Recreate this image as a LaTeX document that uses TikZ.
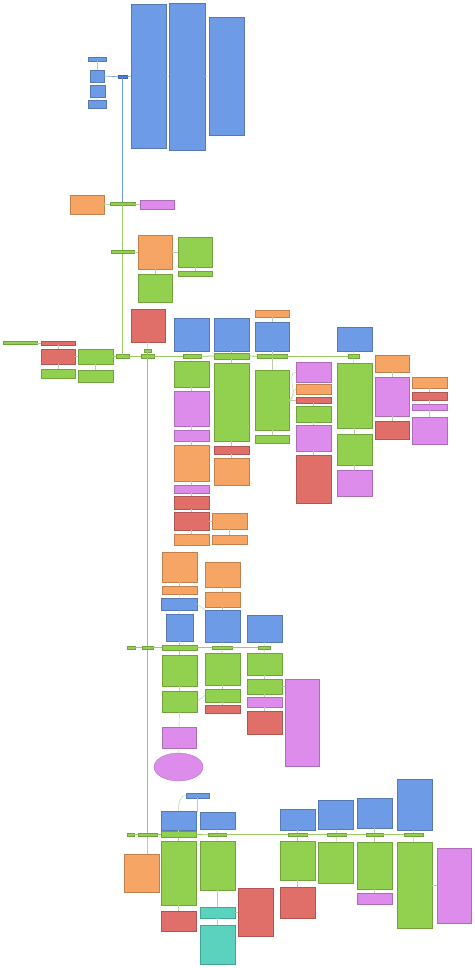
\documentclass[tikz,border=0pt]{standalone}
\usetikzlibrary{shapes.geometric}
\definecolor{cBlue}{HTML}{6E9BE6}
\definecolor{cBlueD}{HTML}{4F7FD4}
\definecolor{cGreen}{HTML}{92D050}
\definecolor{cOrange}{HTML}{F6A564}
\definecolor{cRed}{HTML}{E06E69}
\definecolor{cPurple}{HTML}{DE8CEB}
\definecolor{cTeal}{HTML}{5AD2BE}
\definecolor{cLine}{HTML}{B9CFA6}
\definecolor{cTrunk}{HTML}{9CCC65}
\definecolor{cTrunkB}{HTML}{6E9BE6}
\tikzset{
  box/.style={rectangle, draw=#1!78!black, fill=#1, line width=0.3pt, inner sep=0pt, outer sep=0pt},
  conn/.style={draw=cLine, line width=0.45pt},
  trunk/.style={draw=cTrunk, line width=0.8pt},
  trunkb/.style={draw=cTrunkB, line width=0.8pt},
}
\newcommand{\bx}[6]{\node[box=#6, minimum width={(#4-#2)*1pt}, minimum height={(#5-#3)*1pt}] (#1) at ({(#2+#4)/2},{(#3+#5)/2}) {};}
\begin{document}
\begin{tikzpicture}[x=1pt,y=-1pt]
\fill[white] (0,0) rectangle (474,968);
\useasboundingbox (0,0) rectangle (474,968);

% ---------- top ----------
\bx{T0}{88}{57}{106}{61}{cBlue}
\bx{T1}{90}{70}{104}{82}{cBlue}
\bx{T2}{90}{85}{105}{97}{cBlue}
\bx{T3}{88}{100}{106}{108}{cBlue}
\bx{C}{118}{75}{127}{78.5}{cBlueD}
\bx{B1}{131}{4}{166}{148}{cBlue}
\bx{B2}{169}{3}{205}{150}{cBlue}
\bx{B3}{209}{17}{244}{135}{cBlue}

% ---------- rows on first trunk ----------
\bx{L1}{110}{202}{135}{205.5}{cGreen}
\bx{O1}{70}{195}{104}{214}{cOrange}
\bx{P1}{140}{200}{174}{209}{cPurple}

\bx{L2}{111}{250}{134}{253.5}{cGreen}
\bx{O2}{138}{235}{172}{269}{cOrange}
\bx{G2}{178}{237}{212}{267}{cGreen}
\bx{G2b}{178}{271}{212}{276}{cGreen}
\bx{G2c}{138}{274}{172}{302}{cGreen}

% ---------- row 356 ----------
\bx{R0}{131}{309}{165}{342}{cRed}
\bx{S0}{144}{349}{151}{352}{cGreen}
\bx{L3}{116}{354.5}{129}{358}{cGreen}
\bx{L4}{141}{354.5}{154}{358}{cGreen}
\bx{GL}{78}{349}{113}{364}{cGreen}
\bx{GLb}{78}{370}{113}{382}{cGreen}
\bx{RL}{41}{349}{75}{364}{cRed}
\bx{RLs}{41}{341}{75}{345}{cRed}
\bx{GLc}{41}{369}{75}{378}{cGreen}
\bx{LL}{3}{341.5}{37}{344.5}{cGreen}

\bx{La}{183}{354.5}{201}{358}{cGreen}
\bx{Lb}{214}{353}{249}{359}{cGreen}
\bx{Lc}{257}{354.5}{287}{358}{cGreen}
\bx{Ld}{348}{354.5}{359}{358}{cGreen}

\bx{Ba}{174}{318}{209}{351}{cBlue}
\bx{Bb}{214}{318}{249}{351}{cBlue}
\bx{Oc}{255}{310}{289}{317}{cOrange}
\bx{Bc}{255}{322}{289}{351}{cBlue}
\bx{Bd}{337}{327}{372}{351}{cBlue}

\bx{a1}{174}{361}{209}{387}{cGreen}
\bx{a2}{174}{391}{209}{426}{cPurple}
\bx{a3}{174}{430}{209}{441}{cPurple}
\bx{a4}{174}{445}{209}{481}{cOrange}
\bx{a5}{174}{485}{209}{493}{cPurple}
\bx{a6}{174}{496}{209}{509}{cRed}
\bx{a7}{174}{512}{209}{530}{cRed}
\bx{a8}{174}{534}{209}{545}{cOrange}
\bx{a7r}{212}{513}{247}{529}{cOrange}
\bx{a8r}{212}{535}{247}{544}{cOrange}

\bx{b1}{214}{363}{249}{441}{cGreen}
\bx{b2}{214}{446}{249}{454}{cRed}
\bx{b3}{214}{458}{249}{485}{cOrange}

\bx{c1}{255}{370}{289}{430}{cGreen}
\bx{c2}{255}{435}{289}{443}{cGreen}

\bx{d1}{296}{362}{331}{382}{cPurple}
\bx{d2}{296}{384}{331}{394}{cOrange}
\bx{d3}{296}{397}{331}{403}{cRed}
\bx{d4}{296}{406}{331}{422}{cGreen}
\bx{d5}{296}{425}{331}{451}{cPurple}
\bx{d6}{296}{455}{331}{503}{cRed}

\bx{e1}{337}{363}{372}{428}{cGreen}
\bx{e2}{337}{434}{372}{465}{cGreen}
\bx{e3}{337}{470}{372}{496}{cPurple}

\bx{f1}{375}{355}{409}{372}{cOrange}
\bx{f2}{375}{377}{409}{416}{cPurple}
\bx{f3}{375}{421}{409}{439}{cRed}

\bx{g1}{412}{377}{447}{388}{cOrange}
\bx{g2}{412}{392}{447}{400}{cRed}
\bx{g3}{412}{404}{447}{410}{cPurple}
\bx{g4}{412}{417}{447}{444}{cPurple}

% ---------- row 648 ----------
\bx{h1}{162}{552}{197}{582}{cOrange}
\bx{h2}{162}{586}{197}{594}{cOrange}
\bx{h3}{161}{598}{197}{610}{cBlue}
\bx{h4}{166}{614}{193}{641}{cBlue}
\bx{i1}{205}{562}{240}{587}{cOrange}
\bx{i2}{205}{592}{240}{607}{cOrange}
\bx{i3}{205}{610}{240}{642}{cBlue}
\bx{j0}{247}{615}{282}{642}{cBlue}

\bx{M0}{127}{646}{135}{649.5}{cGreen}
\bx{M1}{142}{646}{153}{649.5}{cGreen}
\bx{Mh}{162}{645}{197}{650.5}{cGreen}
\bx{Mi}{212}{646}{232}{649.5}{cGreen}
\bx{Mj}{258}{646}{270}{649.5}{cGreen}

\bx{h5}{162}{655}{197}{686}{cGreen}
\bx{h6}{162}{691}{197}{712}{cGreen}
\bx{h7}{162}{727}{196}{748}{cPurple}
\node[ellipse, draw=cPurple!78!black, fill=cPurple, line width=0.3pt, inner sep=0pt, outer sep=0pt, minimum width=49pt, minimum height=28pt] (h8) at (178.5,767) {};
\bx{i4}{205}{653}{240}{685}{cGreen}
\bx{i5}{205}{689}{240}{702}{cGreen}
\bx{i6}{205}{705}{240}{713}{cRed}
\bx{j1}{247}{653}{282}{675}{cGreen}
\bx{j2}{247}{679}{282}{694}{cGreen}
\bx{j3}{247}{697}{282}{707}{cPurple}
\bx{j4}{247}{711}{282}{734}{cRed}
\bx{k1}{285}{679}{319}{766}{cPurple}

% ---------- row 835 ----------
\bx{Q0}{186}{793}{209}{798}{cBlue}
\bx{N0}{127}{833}{134}{836.5}{cGreen}
\bx{N1}{138}{833}{157}{836.5}{cGreen}
\bx{Na}{161}{831.5}{196}{837.5}{cGreen}
\bx{Nb}{208}{833}{226}{836.5}{cGreen}
\bx{Nc}{288}{833}{307}{836.5}{cGreen}
\bx{Nd}{327}{833}{346}{836.5}{cGreen}
\bx{Ne}{366}{833}{383}{836.5}{cGreen}
\bx{Nf}{404}{833}{423}{836.5}{cGreen}

\bx{na0}{161}{811}{196}{830}{cBlue}
\bx{nb0}{200}{812}{235}{829}{cBlue}
\bx{nc0}{280}{809}{315}{830}{cBlue}
\bx{nd0}{318}{800}{353}{829}{cBlue}
\bx{ne0}{357}{798}{392}{828}{cBlue}
\bx{nf0}{397}{779}{432}{830}{cBlue}

\bx{nor}{124}{854}{159}{892}{cOrange}
\bx{na1}{161}{841}{196}{905}{cGreen}
\bx{na2}{161}{911}{196}{931}{cRed}
\bx{nb1}{200}{841}{235}{890}{cGreen}
\bx{nb2}{200}{907}{235}{918}{cTeal}
\bx{nb3}{200}{925}{235}{964}{cTeal}
\bx{nbr}{238}{888}{273}{936}{cRed}
\bx{nc1}{280}{841}{315}{880}{cGreen}
\bx{nc2}{280}{887}{315}{918}{cRed}
\bx{nd1}{318}{842}{353}{883}{cGreen}
\bx{ne1}{357}{842}{392}{889}{cGreen}
\bx{ne2}{357}{893}{392}{904}{cPurple}
\bx{nf1}{397}{842}{432}{928}{cGreen}
\bx{nfr}{437}{848}{471}{923}{cPurple}

% ---------- connectors ----------
\begin{scope}[on background layer/.try]
\end{scope}
\draw[conn] (T0) -- (T1);
\draw[conn] (T1) -- (T2);
\draw[conn] (T2) -- (T3);
\draw[trunkb, line width=0.6pt] (T1.east) -- (C.west);
\draw[trunkb, line width=0.6pt] (C.east) -- (B1.west);
\draw[conn, dashed] (B1.east) -- (B2.west);
\draw[conn, dashed] (B2.east) -- (B3.west);
\draw[trunkb] (C.south) -- (L1.north);
\draw[trunk] (L1.south) -- (L2.north);
\draw[trunk] (L2.south) -- (L3.north);
\draw[conn] (L1.west) -- (O1.east |- L1.west);
\draw[conn] (L1.east) -- (P1.west |- L1.east);
\draw[conn] (L2.east) -- (O2.west |- L2.east);
\draw[conn] (O2.east |- G2.west) -- (G2.west);
\draw[conn] (G2) -- (G2b);
\draw[conn] (O2) -- (G2c);

% row 356
\draw[conn] (R0) -- (S0);
\draw[trunk] (S0) -- (L4);
\draw[trunk] (L3.east) -- (L4.west);
\draw[trunk] (L4.east) -- (La.west);
\draw[trunk] (La.east) -- (Lb.west);
\draw[trunk] (Lb.east) -- (Lc.west);
\draw[trunk] (Lc.east) -- (Ld.west);
\draw[trunk] (L3.west) -- (GL.east |- L3.west);
\draw[conn] (GL.west) -- (RL.east);
\draw[conn] (RL) -- (RLs);
\draw[conn] (RLs.west) -- (LL.east);
\draw[conn] (RL) -- (GLc);
\draw[conn] (GL) -- (GLb);
\draw[conn] (Ba) -- (La);
\draw[conn] (Bb) -- (Lb);
\draw[conn] (Oc) -- (Bc);
\draw[conn] (Bc) -- (Lc);
\draw[conn] (Bd) -- (Ld);
\draw[conn] (La) -- (a1);
\foreach \p/\q in {a1/a2,a2/a3,a3/a4,a4/a5,a5/a6,a6/a7,a7/a8,a7r/a8r,Lb/b1,b1/b2,b2/b3,Lc/c1,c1/c2,d3/d4,d4/d5,d5/d6,Ld/e1,e1/e2,e2/e3,f1/f2,f2/f3,g1/g2,g2/g3,g3/g4}
  \draw[conn] (\p) -- (\q);
\draw[conn] (a7.east) -- (a7r.west);
\draw[conn] (c1.east) to[out=0,in=180] (d1.west);
\draw[conn] (c1.east) to[out=0,in=180] (d2.west);
\draw[conn] (c1.east) to[out=0,in=180] (d3.west);

% second trunk
\draw[trunk] (L4.south) -- (M1.north);
\draw[trunk] (M1.south) -- (N1.north);

% row 648
\draw[trunk] (M0.east) -- (M1.west);
\draw[trunk] (M1.east) -- (Mh.west);
\draw[trunk] (Mh.east) -- (Mi.west);
\draw[trunk] (Mi.east) -- (Mj.west);
\foreach \p/\q in {h1/h2,h2/h3,h3/h4,h4/Mh,i1/i2,i2/i3,i3/Mi,j0/Mj,Mh/h5,h5/h6,h6/h7,h7/h8,Mi/i4,i4/i5,i5/i6,Mj/j1,j1/j2,j2/j3,j3/j4}
  \draw[conn] (\p) -- (\q);
\draw[conn] (h3.east) -- (i3.north west);
\draw[conn] (h6.east) -- (i5.west);
\draw[conn] (j2.east) -- (k1.west |- j2.east);

% row 835
\draw[trunk] (N0.east) -- (N1.west);
\draw[trunk] (N1.east) -- (Na.west);
\draw[trunk] (Na.east) -- (Nb.west);
\draw[trunk] (Nb.east) -- (Nc.west);
\draw[trunk] (Nc.east) -- (Nd.west);
\draw[trunk] (Nd.east) -- (Ne.west);
\draw[trunk] (Ne.east) -- (Nf.west);
\draw[conn] (Q0.west) to[out=180,in=90] (na0.north);
\draw[conn] (Q0.south -| 197.5,0) -- (nb0.north west -| 197.5,0);
\foreach \p/\q in {na0/Na,nb0/Nb,nc0/Nc,nd0/Nd,ne0/Ne,nf0/Nf,Na/na1,na1/na2,Nb/nb1,nb1/nb2,nb2/nb3,Nc/nc1,nc1/nc2,Nd/nd1,Ne/ne1,ne1/ne2,Nf/nf1}
  \draw[conn] (\p) -- (\q);
\draw[conn] (N1.south) -- (nor.north -| N1.south);
\draw[conn] (nb2.east) -- (nbr.west |- nb2.east);
\draw[conn] (nf1.east |- nfr.west) -- (nfr.west);
\end{tikzpicture}
\end{document}
